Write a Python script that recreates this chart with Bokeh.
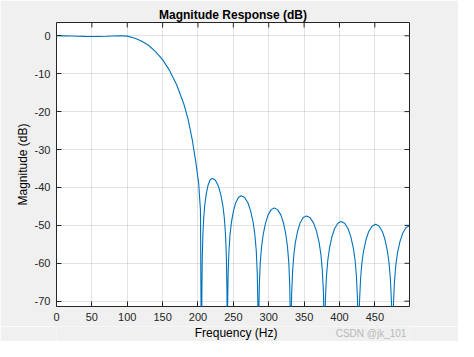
import math
from bokeh.plotting import figure
from bokeh.layouts import column
from bokeh.models import Range1d, FixedTicker
from bokeh.core.properties import value
from bokeh.embed import file_html
from bokeh.resources import INLINE

# Frequency (Hz) and magnitude (dB)
freq_main = [0, 10, 20, 30, 40, 50, 60, 70, 80, 90, 100, 110, 120, 130, 140, 150,
             160, 170, 180, 186, 192, 197, 201, 203.5]
db_main = [0, -0.02, -0.06, -0.12, -0.17, -0.2, -0.18, -0.12, -0.05, 0, -0.1, -0.6,
           -1.4, -2.5, -4.2, -6.3, -9.2, -13, -18, -22, -27.5, -33.4, -39, -46]

freq_lobe1 = [205.2, 205.5, 206.1, 207.0, 208.2, 209.6, 211.7, 214.1, 217.0, 220.0,
              224.3, 228.6, 232.0, 235.0, 237.1, 238.8, 240.1, 241.0]
db_lobe1 = [-100, -67.6, -58.1, -52.1, -47.8, -44.6, -41.7, -39.5, -38.05, -37.6,
            -38.05, -39.5, -41.7, -44.6, -47.8, -52.1, -58.1, -67.6]

freq_lobe2 = [241.4, 241.8, 242.6, 243.8, 245.3, 247.3, 250.0, 253.2, 257.1, 261.0,
              265.9, 270.7, 274.6, 278.0, 280.4, 282.4, 283.8, 284.8]
db_lobe2 = [-100, -72.2, -62.7, -56.7, -52.4, -49.2, -46.3, -44.1, -42.65, -42.2,
            -42.65, -44.1, -46.3, -49.2, -52.4, -56.7, -62.7, -72.2]

freq_lobe3 = [285.3, 285.8, 286.7, 288.0, 289.9, 292.2, 295.4, 299.0, 303.4, 307.8,
              312.6, 317.3, 321.0, 324.2, 326.5, 328.4, 329.7, 330.6]
db_lobe3 = [-100, -75.4, -65.9, -59.9, -55.6, -52.4, -49.5, -47.3, -45.85, -45.4,
            -45.85, -47.3, -49.5, -52.4, -55.6, -59.9, -65.9, -75.4]

freq_lobe4 = [331.1, 331.5, 332.4, 333.8, 335.5, 337.7, 340.8, 344.3, 348.7, 353.2,
              358.3, 363.5, 367.6, 371.2, 373.8, 375.8, 377.4, 378.3]
db_lobe4 = [-100, -77.5, -68.0, -62.0, -57.7, -54.5, -51.6, -49.4, -47.95, -47.5,
            -47.95, -49.4, -51.6, -54.5, -57.7, -62.0, -68.0, -77.5]

freq_lobe5 = [378.7, 379.2, 380.1, 381.6, 383.5, 385.9, 389.2, 393.0, 397.7, 402.4,
              407.3, 412.2, 416.2, 419.6, 422.1, 424.0, 425.5, 426.4]
db_lobe5 = [-100, -79.0, -69.5, -63.5, -59.2, -56.0, -53.1, -50.9, -49.45, -49.0,
            -49.45, -50.9, -53.1, -56.0, -59.2, -63.5, -69.5, -79.0]

freq_lobe6 = [426.9, 427.4, 428.3, 429.8, 431.7, 434.1, 437.5, 441.4, 446.3, 451.1,
              455.8, 460.6, 464.4, 467.7, 470.1, 472.0, 473.5, 474.4]
db_lobe6 = [-100, -79.7, -70.2, -64.2, -59.9, -56.7, -53.8, -51.6, -50.15, -49.7,
            -50.15, -51.6, -53.8, -56.7, -59.9, -64.2, -70.2, -79.7]

freq_lobe7 = [474.9, 475.4, 476.3, 477.8, 479.7, 482.1, 485.5, 489.3, 494.1, 499.0]
db_lobe7 = [-100, -80.2, -70.7, -64.7, -60.4, -57.2, -54.3, -52.1, -50.55, -50.1]

x_ticks = [0, 50, 100, 150, 200, 250, 300, 350, 400, 450]
y_ticks = [0, -10, -20, -30, -40, -50, -60, -70]

title_text = "Magnitude Response (dB)"
x_title = "Frequency (Hz)"
y_title = "Magnitude (dB)"
credit = "CSDN @jk_101"

freq = (freq_main + freq_lobe1 + freq_lobe2 + freq_lobe3 + freq_lobe4
        + freq_lobe5 + freq_lobe6 + freq_lobe7)
mag = (db_main + db_lobe1 + db_lobe2 + db_lobe3 + db_lobe4
       + db_lobe5 + db_lobe6 + db_lobe7)

X_MIN, X_MAX = 0, 499
Y_MIN, Y_MAX = -71.4, 3.5

FONT = "Liberation Sans"
DARK = "#262626"
BG = "#f0f0f0"
W = 458

p = figure(width=W, height=326, output_backend="svg", toolbar_location=None,
           x_range=Range1d(X_MIN, X_MAX), y_range=Range1d(Y_MIN, Y_MAX),
           min_border_left=56, min_border_right=49, min_border_top=22,
           min_border_bottom=20)

p.border_fill_color = BG
p.background_fill_color = "white"
p.outline_line_color = DARK
p.outline_line_width = 1

p.title.text = title_text
p.title.align = "center"
p.title.text_font = FONT
p.title.text_font_size = "12px"
p.title.text_font_style = "bold"
p.title.text_color = "black"
p.title.standoff = 2

p.line(freq, mag, line_color="#0072BD", line_width=1.1)

for ax in [p.xaxis[0], p.yaxis[0]]:
    ax.major_tick_in = 5
    ax.major_tick_out = 0
    ax.minor_tick_in = 0
    ax.minor_tick_out = 0
    ax.axis_line_color = None
    ax.major_tick_line_color = DARK
    ax.major_label_text_font = FONT
    ax.major_label_text_font_size = "11px"
    ax.major_label_text_color = DARK
    ax.axis_label_text_font = FONT
    ax.axis_label_text_font_size = "12px"
    ax.axis_label_text_font_style = "normal"
    ax.axis_label_text_color = "black"

p.xaxis[0].ticker = FixedTicker(ticks=x_ticks)
p.yaxis[0].ticker = FixedTicker(ticks=y_ticks)
p.xaxis[0].major_label_overrides = {t: str(t) for t in x_ticks}
p.yaxis[0].major_label_overrides = {t: str(t) for t in y_ticks}
p.yaxis[0].axis_label = y_title
p.xaxis[0].major_label_standoff = 6
p.yaxis[0].major_label_standoff = 6
p.yaxis[0].axis_label_standoff = 2

# inward ticks on the top and right edges of the box
p.ray(x=x_ticks, y=[Y_MAX] * len(x_ticks), length=5, length_units="screen",
      angle=-math.pi / 2, line_color=DARK, line_width=1)
p.ray(x=[X_MAX] * len(y_ticks), y=y_ticks, length=5, length_units="screen",
      angle=math.pi, line_color=DARK, line_width=1)

p.xgrid.ticker = FixedTicker(ticks=x_ticks)
p.ygrid.ticker = FixedTicker(ticks=y_ticks)
p.grid.grid_line_color = DARK
p.grid.grid_line_alpha = 0.13

# bottom strip carrying the x-axis title and the credit line
s = figure(width=W, height=15, output_backend="svg", toolbar_location=None,
           x_range=Range1d(0, W), y_range=Range1d(0, 15),
           x_axis_type=None, y_axis_type=None,
           min_border_left=0, min_border_right=0, min_border_top=0,
           min_border_bottom=0)
s.border_fill_color = BG
s.background_fill_color = BG
s.outline_line_color = None
s.grid.visible = False

s.text(x=[233], y=[8.5], text=[x_title], text_align="center",
       text_baseline="middle", text_font=value(FONT), text_font_size="12px",
       text_color="black")
s.text(x=[454], y=[8], text=[credit], text_align="right",
       text_baseline="middle", text_font=value(FONT), text_font_size="10px",
       text_color="#b8b8b8")

layout = column(p, s, spacing=0)
open("out.html", "w").write(file_html(layout, INLINE))
